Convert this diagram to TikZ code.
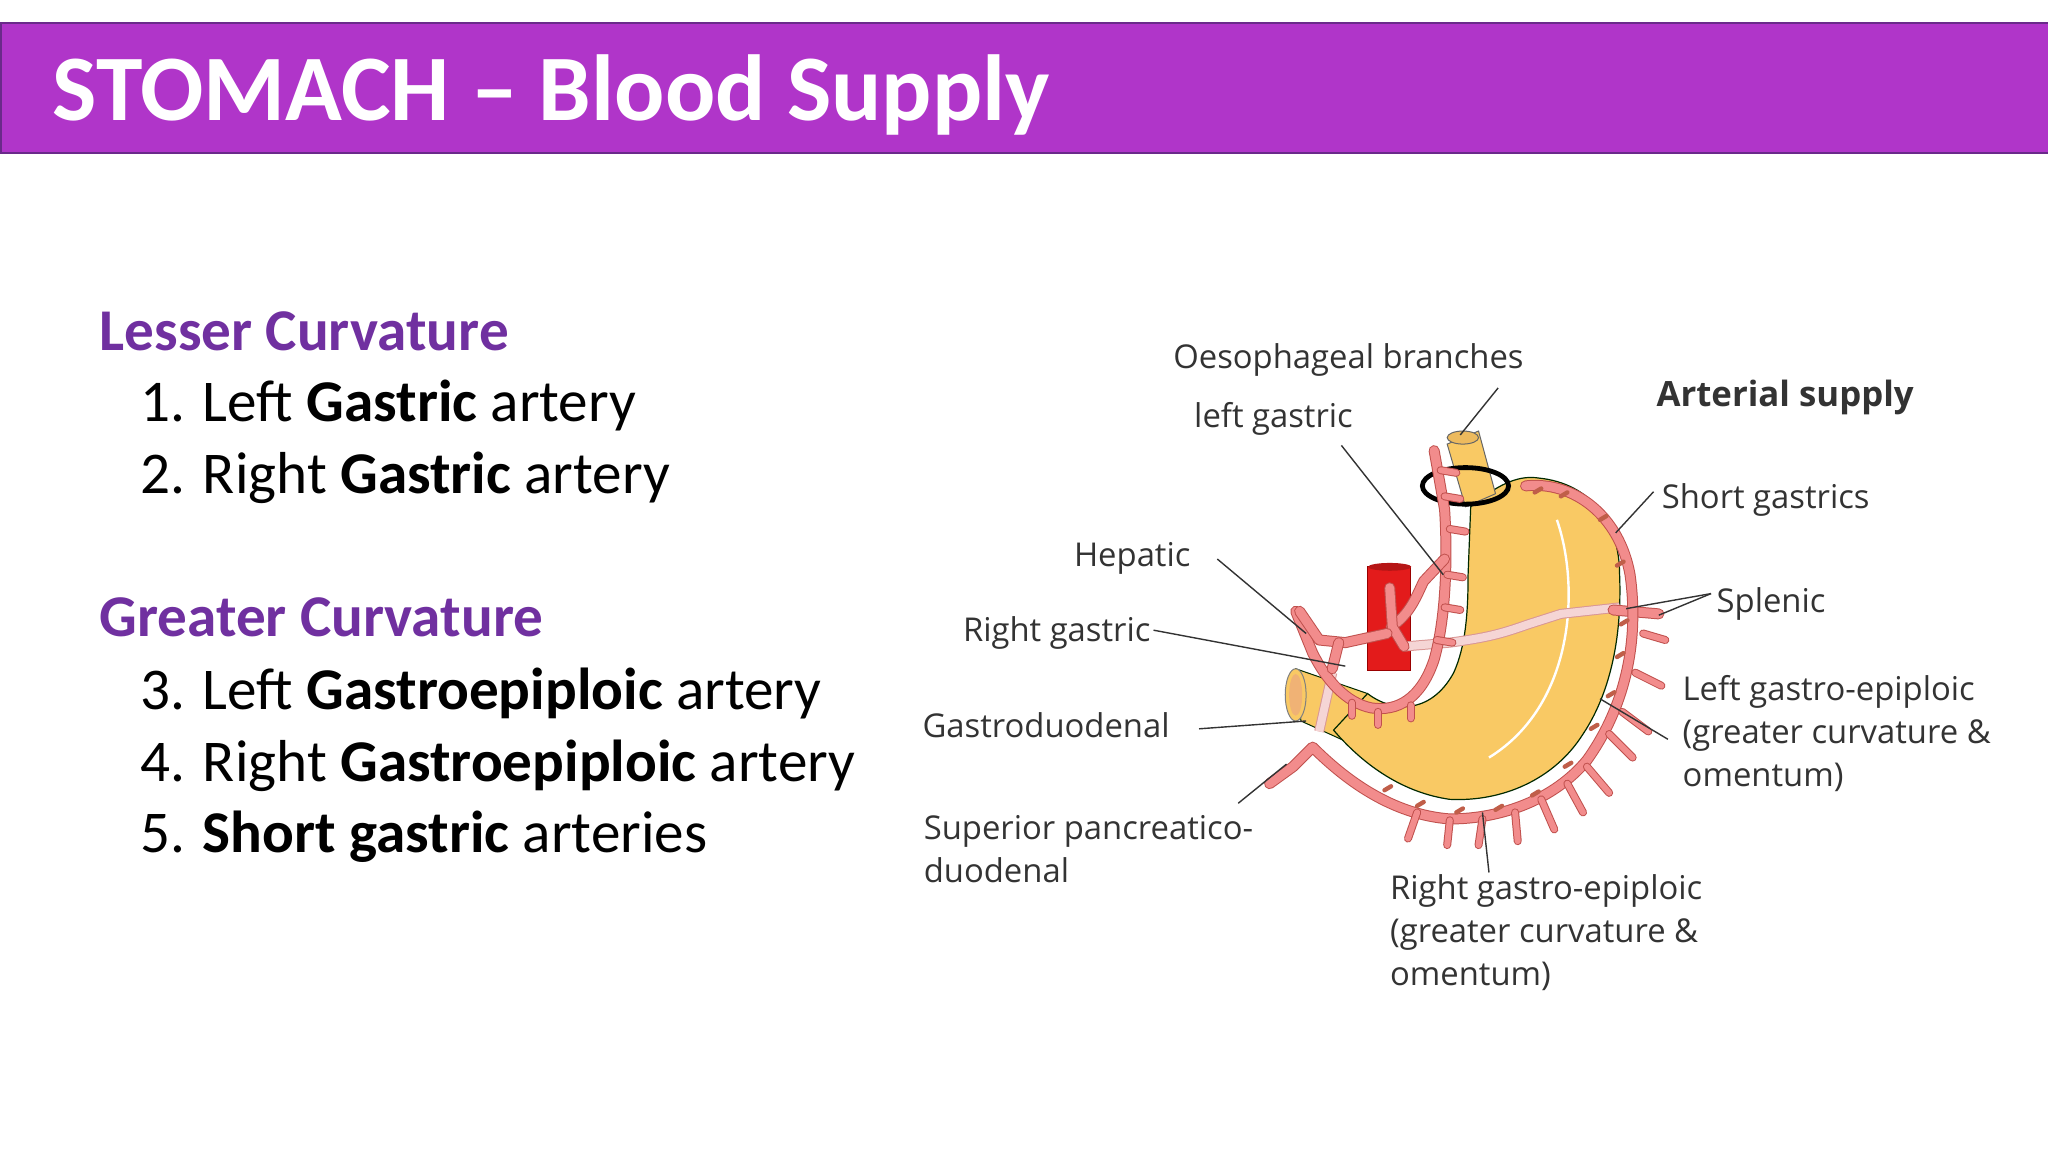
\documentclass[tikz,border=0pt]{standalone}
\usepackage{fontspec}
\setmainfont{Carlito}
\newfontfamily\labfont{Open Sans}
\definecolor{titlebg}{HTML}{B035C9}
\definecolor{titleedge}{HTML}{6A2A8A}
\definecolor{headpurple}{HTML}{7030A0}
\definecolor{stomachfill}{HTML}{F9C964}
\definecolor{artfill}{HTML}{F28C8C}
\definecolor{artedge}{HTML}{C0504D}
\definecolor{palefill}{HTML}{F5D5D5}
\definecolor{labgray}{HTML}{333333}
\definecolor{aortared}{HTML}{E31B1B}
\tikzset{
  head/.style={anchor=base west,inner sep=0,text=headpurple,font=\fontsize{29.6}{32}\selectfont\bfseries},
  item/.style={anchor=base west,inner sep=0,text=black,font=\fontsize{29.6}{32}\selectfont},
  lab/.style={anchor=base west,inner sep=0,text=labgray,font=\labfont\fontsize{16.4}{21.5}\selectfont,align=left},
  leader/.style={draw=labgray,line width=0.7pt},
  artery/.style={draw=artedge,line width=0.5pt,double=artfill,double distance=4.5pt,line cap=round,line join=round},
  twig/.style={draw=artedge,line width=0.5pt,double=artfill,double distance=3pt,line cap=round},
  stub/.style={draw=artedge!70!brown,line width=2.2pt,line cap=round},
}
\begin{document}
\begin{tikzpicture}[x=0.6531pt,y=-0.6531pt]
\useasboundingbox (0,0) rectangle (1568,882);
\fill[white] (0,0) rectangle (1568,882);
% title bar
\node[draw=titleedge,fill=titlebg,line width=1pt,minimum width=1568*0.6531pt,minimum height=99*0.6531pt,anchor=north west,inner sep=0] (bar) at (0,17) {};
\node[anchor=base west,inner sep=0,text=white,font=\fontsize{46.9}{50}\selectfont\bfseries] (title) at (40,92) {STOMACH -- Blood Supply};
% left text
\node[head] (lesser) at (76,268) {Lesser Curvature};
\node[item] (i1) at (107,323) {1. Left \textbf{Gastric} artery};
\node[item] (i2) at (107,378) {2. Right \textbf{Gastric} artery};
\node[head] (greater) at (76,487) {Greater Curvature};
\node[item] (i3) at (107,543) {3. Left \textbf{Gastroepiploic} artery};
\node[item] (i4) at (107,598) {4. Right \textbf{Gastroepiploic} artery};
\node[item] (i5) at (107,653) {5. \textbf{Short gastric} arteries};

% ---- stomach drawing ----
\fill[stomachfill,draw=black!60!green!40!black,line width=0.5pt] (992,512) -- (1047,531) -- (1040,572) -- (996,552) -- cycle;
\fill[stomachfill,draw=black!60!green!40!black,line width=0.6pt]
 (1126,388) .. controls (1150,368) and (1165,364) .. (1178,366)
 .. controls (1218,370) and (1240,400) .. (1240,440)
 .. controls (1242,490) and (1232,532) .. (1212,562)
 .. controls (1190,597) and (1150,614) .. (1110,612)
 .. controls (1075,607) and (1045,587) .. (1021,559)
 -- (1047,531)
 .. controls (1065,545) and (1095,548) .. (1113,515)
 .. controls (1122,495) and (1124,470) .. (1124,440)
 -- cycle;
\fill[stomachfill,draw=black!50,line width=0.5pt] (992,532) ellipse (8 and 20);
\fill[brown!40!orange!60] (992,532) ellipse (5 and 16);
\draw[white,line width=1.2pt] (1192,398) .. controls (1210,450) and (1205,540) .. (1140,580);
% oesophagus
\fill[stomachfill,draw=black!60,line width=0.5pt] (1108,340) -- (1132,330) -- (1145,378) -- (1122,388) -- cycle;
\fill[stomachfill!80!brown,draw=black!60,line width=0.5pt] (1120,335) ellipse (12 and 5);
% ring
\draw[black,line width=2.4pt] (1122,372) ellipse (33 and 14);
% aorta
\fill[aortared,draw=red!60!black,line width=0.4pt] (1047,434) rectangle (1080,513);
\fill[aortared!80!black] (1064,434) ellipse (16.5 and 3);
% splenic (pale, behind)
\draw[draw=artedge!60,line width=0.5pt,double=palefill,double distance=4pt,line join=round]
 (1075,495) -- (1110,492) .. controls (1140,488) and (1150,485) .. (1170,478) -- (1195,470) -- (1240,465);
\draw[draw=artedge!60,line width=0.5pt,double=palefill,double distance=4pt] (1020,515) -- (1010,560);
\draw[artery] (1235,467) -- (1270,470);
% greater curvature arcade
\draw[artery] (1168,372) .. controls (1205,368) and (1240,395) .. (1248,440)
 .. controls (1255,490) and (1245,540) .. (1215,582)
 .. controls (1190,612) and (1150,627) .. (1110,627)
 .. controls (1070,624) and (1035,602) .. (1005,572) -- (990,587) -- (972,600);
\foreach \a/\b in {1180/374,1200/377,1230/395,1243/430,1246/475,1243/500,1236/530,1223/555,1203/584,1178/606,1150/617,1120/619,1090/614,1065/602}{
  \draw[stub] (\a,\b) -- ++(-5,3);}
\foreach \a/\b/\c/\d in {1258/485/1275/490,1252/515/1272/525,1242/545/1262/560,1232/562/1250/580,1215/587/1232/607,1200/600/1212/622,1180/612/1190/635,1160/622/1162/644,1135/627/1132/647,1110/628/1108/647,1085/622/1078/642}{
  \draw[twig] (\a,\b) -- (\c,\d);}
% lesser curvature arcade
\draw[artery] (1098,345) -- (1106,390) .. controls (1108,420) and (1108,470) .. (1098,505)
 .. controls (1088,535) and (1070,545) .. (1050,542)
 .. controls (1030,538) and (1015,520) .. (1005,500) -- (992,468);
\foreach \a/\b in {1103/360,1106/380,1110/405,1108/440,1106/465,1100/490}{\draw[twig] (\a,\b) -- ++(12,2);}
\foreach \a/\b in {1080/540,1055/545,1035/538}{\draw[twig] (\a,\b) -- ++(0,10);}
% left gastric
\draw[artery] (1065,480) .. controls (1080,470) and (1085,455) .. (1090,445) -- (1106,428);
\draw[artery] (1064,450) -- (1066,480) -- (1075,495);
% hepatic / right gastric
\draw[artery] (1062,485) -- (1030,492) -- (1010,490) -- (995,468);
\draw[artery] (1025,492) -- (1020,512);
% labels
\node[lab] (oeso) at (898,282) {Oesophageal branches};
\node[lab] (lgast) at (914,327) {left gastric};
\node[lab,font=\labfont\fontsize{17.4}{20}\selectfont\bfseries] (arterial) at (1268,311) {Arterial supply};
\node[lab] (short) at (1272,389) {Short gastrics};
\node[lab] (hepatic) at (822,434) {Hepatic};
\node[lab] (splenic) at (1314,469) {Splenic};
\node[lab] (rgast) at (737,491) {Right gastric};
\node[lab,anchor=north west] (lge) at (1288,517) {Left gastro-epiploic\\(greater curvature \&\\omentum)};
\node[lab] (gd) at (706,565) {Gastroduodenal};
\node[lab,anchor=north west] (spd) at (707,624) {Superior pancreatico-\\duodenal};
\node[lab,anchor=north west] (rge) at (1064,669) {Right gastro-epiploic\\(greater curvature \&\\omentum)};
\coordinate (eOeso) at (1118,333);
\coordinate (eLg) at (1105,440);
\coordinate (eSh) at (1237,408);
\coordinate (eHep) at (1000,485);
\coordinate (eSp1) at (1245,466);
\coordinate (eSp2) at (1270,471);
\coordinate (eRg) at (1030,510);
\coordinate (eGd) at (1000,552);
\coordinate (eSpd) at (985,585);
\coordinate (eRge) at (1135,622);
\coordinate (eLge) at (1225,535);
\draw[leader] (1147,297) -- (eOeso);
\draw[leader] (1027,341) -- (eLg);
\draw[leader] (short.west) ++(-6,-6) -- (eSh);
\draw[leader] (932,428) -- (eHep);
\draw[leader] (splenic.west) ++(-4,-8) coordinate (sp0) -- (eSp1);
\draw[leader] (sp0) -- (eSp2);
\draw[leader] (rgast.east) ++(2,-2) -- (eRg);
\draw[leader] (918,558) -- (eGd);
\draw[leader] (948,615) -- (eSpd);
\draw[leader] (1140,668) -- (eRge);
\draw[leader] (1277,566) -- (eLge);
\end{tikzpicture}
\end{document}
